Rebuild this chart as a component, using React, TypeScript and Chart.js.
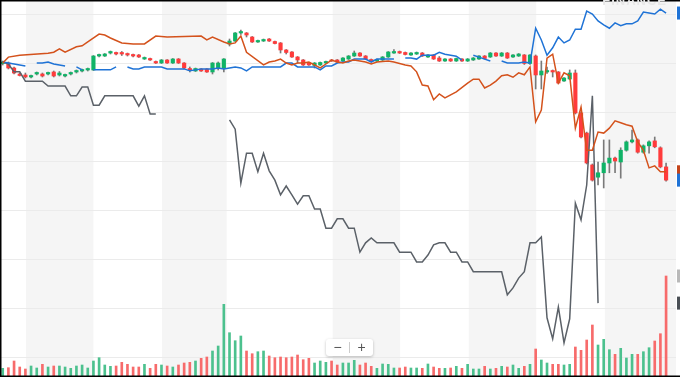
import React, { useEffect, useRef } from "react";
import { Chart, registerables } from "chart.js";

Chart.register(...registerables);

// ---- Data (percent change vs. first day; index = trading day) ----
const candleOpen = [0, 0.2, -0.82, -2.04, -2.24, -2.65, -2.04, -2.04, -2.04, -1.63, -2.24, -2.45, -2.04, -1.63, -1.43, -1.22, -1.22, 1.63, 1.63, 2.24, 2.35, 2.35, 2.14, 1.94, 1.84, 1.02, 1.12, 0.51, 0.2, 0.82, 0.2, 1.02, 0.2, -0.92, -1.43, -1.02, -1.02, -1.63, -0.82, -0.82, 4.08, 4.69, 6.33, 6.33, 5.51, 4.49, 4.69, 5.1, 4.59, 4.29, 2.86, 2.45, 1.43, 0.82, 0.2, -0.31, -0.2, 0.2, 0.82, 0.82, 0.61, 1.02, 1.63, 2.24, 1.63, 0.92, 0.61, 0.82, 1.43, 2.24, 2.55, 2.35, 1.84, 2.04, 2.24, 1.43, 1.84, 1.22, 0.61, 1.02, 0.61, 1.02, 0.61, 0.82, 1.02, 1.63, 1.43, 2.24, 1.63, 2.24, 1.43, 1.63, 1.84, 0, 1.63, -2.24, -1.63, -1.33, -1.63, -3.47, -3.06, -1.84, -10.0, -14.1, -20.6, -23.1, -22.2, -20.2, -19.2, -20.0, -17.6, -15.9, -15.5, -18.0, -16.7, -15.7, -17.1, -21.0];
const candleHigh = [0.61, 0.41, -0.61, -1.84, -1.84, -2.24, -1.63, -1.84, -1.63, -1.43, -1.53, -2.04, -1.63, -1.22, -1.02, -0.82, 1.73, 2.04, 2.14, 2.65, 2.45, 2.55, 2.24, 2.04, 1.94, 1.43, 1.22, 0.61, 0.92, 0.92, 1.12, 1.12, 0.31, -0.61, -0.82, -0.92, -0.92, 0.31, 0.41, 1.12, 5.1, 6.43, 6.94, 6.43, 5.61, 4.9, 5.1, 5.2, 4.69, 4.39, 2.96, 2.55, 1.53, 0.92, 0.31, 0.31, 0.41, 0.61, 0.92, 0.92, 1.33, 1.73, 2.65, 2.35, 1.73, 1.02, 1.02, 1.53, 2.55, 2.96, 2.65, 2.45, 2.35, 2.45, 2.35, 1.94, 1.94, 1.53, 1.12, 1.12, 1.22, 1.12, 1.12, 1.33, 1.73, 1.73, 2.35, 2.35, 2.35, 2.35, 1.94, 2.14, 1.94, 1.94, 1.84, 0.61, -0.61, -1.22, -1.53, -2.76, -1.22, -1.22, -9.8, -13.9, -20.4, -20.0, -15.5, -15.5, -19.0, -17.1, -15.7, -13.5, -15.3, -16.5, -15.7, -14.9, -16.9, -20.2];
const candleLow = [-0.2, -1.02, -2.04, -2.45, -2.86, -2.86, -2.24, -2.65, -2.24, -2.65, -2.45, -2.65, -2.24, -1.84, -1.63, -1.43, -1.33, 1.43, 1.53, 2.04, 1.84, 1.73, 1.63, 1.43, 1.33, 0.92, 0.71, 0.1, 0.1, 0.1, 0.1, 0.1, -1.02, -1.63, -1.53, -1.53, -1.73, -2.04, -1.22, -1.63, 3.67, 4.59, 6.02, 5.51, 4.39, 4.39, 4.59, 4.59, 4.08, 2.24, 2.04, 1.33, 0.2, -0.31, -0.31, -0.82, -0.31, 0.1, 0.51, 0.31, 0.51, 0.92, 1.53, 1.53, 0.92, 0.51, 0.51, 0.71, 1.33, 2.14, 2.14, 1.84, 1.73, 1.94, 1.53, 1.33, 0.92, 0.51, 0.51, 0.51, 0.51, 0.51, 0.51, 0.71, 0.92, 1.02, 1.33, 1.53, 1.53, 1.12, 1.33, 1.53, -0.1, -0.1, -5.1, -5.1, -1.94, -2.65, -3.98, -3.57, -3.16, -10.2, -15.1, -20.4, -23.9, -24.7, -25.3, -22.2, -22.2, -23.3, -17.8, -16.1, -18.2, -18.2, -18.2, -17.1, -21.2, -23.9];
const candleClose = [0.41, -0.82, -1.84, -2.35, -2.65, -2.35, -1.73, -2.45, -1.73, -2.45, -1.84, -2.14, -1.73, -1.33, -1.12, -0.92, 1.63, 1.94, 2.04, 2.55, 2.04, 2.04, 1.84, 1.63, 1.43, 1.33, 0.82, 0.2, 0.82, 0.2, 1.02, 0.2, -0.82, -1.33, -0.92, -1.43, -1.63, 0.2, 0.2, 1.02, 4.69, 6.33, 6.63, 5.92, 4.49, 4.8, 5.0, 4.69, 4.18, 2.86, 2.35, 1.43, 0.82, -0.2, -0.2, 0.2, 0.31, 0.51, 0.61, 0.41, 1.22, 1.63, 2.24, 1.63, 1.02, 0.61, 0.92, 1.43, 2.45, 2.55, 2.24, 1.94, 2.24, 2.35, 1.63, 1.84, 1.02, 0.61, 1.02, 0.61, 1.12, 0.61, 1.02, 1.22, 1.63, 1.12, 2.24, 1.63, 2.24, 1.22, 1.84, 2.04, 0, 1.84, -2.24, -1.43, -1.33, -1.63, -3.88, -2.86, -1.84, -10.0, -14.9, -20.2, -23.7, -22.2, -20.2, -19.2, -19.8, -17.6, -15.9, -15.5, -18.0, -16.7, -15.9, -16.9, -21.0, -23.7];
const volume = [0.87, 0.93, 1.6, 1.0, 0.8, 1.1, 0.9, 1.27, 1.0, 1.1, 1.1, 1.0, 0.87, 1.1, 1.2, 0.9, 1.6, 1.93, 1.2, 1.07, 1.1, 1.47, 1.27, 1.0, 1.0, 1.27, 0.87, 1.27, 1.2, 1.1, 1.0, 1.2, 1.4, 1.47, 1.6, 1.87, 2.0, 2.6, 3.1, 7.27, 4.43, 3.63, 4.1, 2.6, 2.33, 2.53, 2.6, 2.1, 1.93, 2.0, 1.93, 2.0, 2.2, 1.73, 1.87, 1.4, 1.6, 1.47, 1.6, 1.2, 1.4, 1.4, 1.67, 1.2, 1.4, 1.07, 0.87, 1.3, 1.27, 0.9, 0.9, 1.0, 0.9, 0.9, 0.87, 1.3, 1.0, 0.87, 0.87, 0.9, 1.07, 0.87, 1.27, 0.8, 0.8, 1.07, 0.8, 0.87, 1.07, 1.0, 1.2, 0.87, 1.07, 1.27, 2.8, 1.7, 1.4, 1.27, 1.27, 1.2, 1.27, 3.0, 2.67, 3.7, 5.2, 3.2, 3.77, 2.73, 2.27, 2.87, 1.9, 2.27, 2.27, 2.53, 2.93, 3.6, 4.33, 10.1];

// comparison series: [day index, % change]
const orangeLine: [number, number][] = [[0, 0.2], [1, 1.4], [3, 1.8], [8, 2.2], [9, 2.4], [10, 3.1], [11, 2.4], [13, 3.5], [14, 3.7], [15, 4.5], [17, 6.1], [18, 5.9], [19, 5.3], [21, 4.3], [23, 4.1], [25, 4.1], [27, 5.7], [29, 5.5], [35, 5.7], [36, 4.9], [37, 5.5], [39, 4.5], [40, 4.1], [41, 4.3], [42, 5.7], [43, 2.4], [46, -0.2], [47, 0.4], [48, 0.6], [49, 1.0], [50, 0.2], [51, -0.2], [52, 0.2], [53, 0.2], [54, 0.4], [56, -0.8], [57, 0], [58, 0.8], [59, 0.4], [60, 0.2], [61, 0.6], [62, 0.8], [63, 0.6], [64, 0.4], [65, 0], [66, 0.4], [68, 0.6], [69, 0.4], [71, -0.2], [72, -0.4], [73, -1.6], [74, -4.3], [75, -4.5], [76, -7.3], [77, -6.1], [78, -6.9], [80, -5.7], [82, -3.9], [83, -3.1], [84, -3.1], [85, -4.9], [86, -4.3], [87, -3.5], [88, -2.4], [89, -2.2], [90, -2.7], [91, -1.8], [92, -2.2], [93, -0.6], [94, -11.8], [95, -9.4], [96, 1.2], [97, 2.0], [98, -3.9], [99, -1.8], [100, -2.4], [101, -13.1], [102, -8.8], [103, -17.6], [104, -17.6], [105, -13.9], [106, -14.1], [107, -13.1], [108, -11.6], [109, -12.0], [110, -12.4], [111, -12.7], [112, -15.9], [113, -17.6], [114, -21.2], [115, -20.8], [116, -22.0], [117, -22.0]];
const blueLine: (number | null)[] = [0.4, 0.2, 0, -0.2, -0.4, null, 0.2, 0.2, 0.4, 0, -0.2, -0.4, null, -0.6, -1.2, null, -1.2, -1.2, -1.2, -1.2, -0.6, null, -0.6, -1.0, -1.0, -0.6, -0.6, -0.6, -0.6, -1.0, -1.0, -1.0, -1.0, -1.4, -1.2, -1.0, -1.0, -1.0, -0.8, -1.0, -0.8, -0.6, -0.8, -1.4, -0.6, -0.6, -0.6, -0.6, -0.6, -0.6, 0.2, 0.2, -0.6, -0.6, -0.6, -0.6, -1.2, -0.4, -0.4, 0.2, 0.4, 0.4, 1.0, 1.0, 1.0, 0.4, 1.0, 1.0, 1.0, 1.0, null, 1.2, 1.2, 1.0, 1.8, 1.8, 1.8, 2.4, 2.0, 1.8, 1.6, 0.8, null, 1.8, 1.4, 1.0, 0.6, null, 0.6, 0.2, 0.2, 0.2, 0.4, 0.2, 7.3, 4.9, 1.8, 3.3, 5.5, 4.3, 4.9, 7.1, 7.1, 10.8, 10.2, 8.8, 8.0, 7.3, 8.4, 7.8, 8.2, 8.2, 8.8, 10.6, 10.4, 10.2, 11.2, 10.4];
const grayLine: (number | null)[] = [0.4, 0, -1.6, -1.6, -3.5, -3.5, -3.5, -3.5, -4.5, -4.5, -4.5, -4.5, -6.5, -6.5, -4.7, -4.7, -8.4, -8.4, -6.5, -6.5, -6.5, -6.5, -6.5, -6.5, -8.6, -6.5, -10.2, -10.2, null, null, null, null, null, null, null, null, null, null, null, null, -11.4, -13.3, -24.3, -18.2, -18.2, -22.0, -18.2, -21.8, -23.7, -26.7, -24.9, -26.7, -28.6, -26.9, -26.9, -29.6, -29.6, -33.5, -33.5, -31.6, -31.6, -33.5, -33.5, -38.4, -36.5, -35.5, -36.5, -36.5, -36.5, -36.5, -38.4, -38.4, -38.4, -40.4, -40.4, -39.0, -36.9, -36.5, -36.5, -38.4, -38.4, -40.4, -40.4, -42.4, -42.4, -42.4, -42.4, -42.4, -42.4, -47.1, -45.7, -43.7, -42.4, -36.5, -36.5, -35.3, -51.8, -56.1, -49.6, -56.9, -52.0, -28.4, -31.8, -24.7, -6.5, -48.8];

// shaded periods [from day, to day]
const shadeBands: [number, number][] = [[4.1, 16.0], [28.1, 39.5], [58.2, 70.1], [82.2, 94.1], [106.2, 119]];

const UP = "#10b367";
const DOWN = "#ff3b3b";
const VOL_UP = "#4cc18e";
const VOL_DOWN = "#f76b6b";
const ORANGE = "#d4521c";
const BLUE = "#1f73d6";
const GRAY = "#5b6168";

const decorPlugin = {
  id: "decor",
  beforeDraw(chart: any) {
    const { ctx, chartArea, scales } = chart;
    ctx.save();
    ctx.fillStyle = "#f5f5f5";
    for (const [a, b] of shadeBands) {
      const x1 = Math.max(chartArea.left, scales.x.getPixelForValue(a));
      const x2 = Math.min(chartArea.right, scales.x.getPixelForValue(b));
      ctx.fillRect(x1, chartArea.top, x2 - x1, chartArea.bottom - chartArea.top);
    }
    ctx.restore();
  },
  afterDraw(chart: any) {
    const { ctx, chartArea, scales, width, height } = chart;
    ctx.save();
    const lastOf = (arr: (number | null)[]) => {
      for (let i = arr.length - 1; i >= 0; i--) if (arr[i] != null) return arr[i] as number;
      return 0;
    };
    const markers: [number, string][] = [
      [scales.yv.getPixelForValue(volume[volume.length - 1]), "#b9b9b9"],
      [scales.y.getPixelForValue(lastOf(grayLine)), "#4a4f55"],
      [scales.y.getPixelForValue(orangeLine[orangeLine.length - 1][1]), "#c4441a"],
      [scales.y.getPixelForValue(lastOf(blueLine)), BLUE],
      [scales.y.getPixelForValue(candleClose[candleClose.length - 1]), BLUE],
    ];
    const mx = chartArea.right + 1;
    for (const [py, col] of markers) {
      ctx.fillStyle = col;
      ctx.fillRect(mx, py - 6.5, width - mx, 13);
    }
    ctx.fillStyle = "#000";
    ctx.fillRect(0, 0, width, 1.5);
    ctx.fillRect(0, 0, 1.5, height);
    ctx.fillRect(0, height - 1.5, width, 1.5);
    ctx.restore();
  },
};

export default function App() {
  const ref = useRef<HTMLCanvasElement>(null);
  useEffect(() => {
    const idx = candleOpen.map((_, i) => i);
    const up = idx.map((i) => candleClose[i] >= candleOpen[i]);
    const chart = new Chart(ref.current as HTMLCanvasElement, {
      type: "bar",
      data: {
        datasets: [
          {
            type: "line",
            label: "Orange",
            data: orangeLine.map(([x, y]) => ({ x, y })),
            borderColor: ORANGE,
            borderWidth: 1.5,
            pointRadius: 0,
            tension: 0,
            order: 0,
            yAxisID: "y",
          },
          {
            type: "line",
            label: "Blue",
            data: blueLine.map((y, x) => ({ x, y })),
            borderColor: BLUE,
            borderWidth: 1.5,
            pointRadius: 0,
            tension: 0,
            spanGaps: false,
            order: 1,
            yAxisID: "y",
          },
          {
            type: "line",
            label: "Gray",
            data: grayLine.map((y, x) => ({ x, y })),
            borderColor: GRAY,
            borderWidth: 1.5,
            pointRadius: 0,
            tension: 0,
            spanGaps: false,
            order: 2,
            yAxisID: "y",
          },
          {
            type: "bar",
            label: "Body",
            data: idx.map((i) => ({ x: i, y: [candleOpen[i], candleClose[i]] })),
            backgroundColor: up.map((u) => (u ? UP : DOWN)),
            barThickness: 3.5,
            grouped: false,
            order: 3,
            yAxisID: "y",
          },
          {
            type: "bar",
            label: "Wick",
            data: idx.map((i) => ({ x: i, y: [candleLow[i], candleHigh[i]] })),
            backgroundColor: "#7a7a7a",
            barThickness: 1,
            grouped: false,
            order: 4,
            yAxisID: "y",
          },
          {
            type: "bar",
            label: "Volume",
            data: idx.map((i) => ({ x: i, y: volume[i] })),
            backgroundColor: up.map((u) => (u ? VOL_UP : VOL_DOWN)),
            barThickness: 2,
            grouped: false,
            order: 5,
            yAxisID: "yv",
          },
        ] as any,
      },
      options: {
        responsive: false,
        animation: false,
        events: [],
        layout: { padding: { left: 0, right: 4, top: 0, bottom: 0 } },
        plugins: { legend: { display: false }, tooltip: { enabled: false } },
        scales: {
          x: { type: "linear", min: -0.48, max: 118.75, display: false, offset: false },
          y: {
            type: "linear",
            min: -63.88,
            max: 13.06,
            position: "left",
            ticks: { display: false, stepSize: 10, includeBounds: false },
            grid: { color: "#ebebeb", drawTicks: false, lineWidth: 1 },
            border: { display: false },
          },
          yv: { type: "linear", min: 0, max: 37.7, display: false },
        },
      } as any,
      plugins: [decorPlugin],
    });
    return () => chart.destroy();
  }, []);

  return (
    <div style={{ position: "fixed", left: 0, top: 0, width: 680, height: 377, background: "#fff", overflow: "hidden" }}>
      <canvas ref={ref} width={680} height={377} style={{ position: "absolute", left: 0, top: 0, width: 680, height: 377 }} />
      <div
        style={{
          position: "absolute",
          right: 13,
          top: -7,
          fontFamily: "'Liberation Sans', Arial, sans-serif",
          fontWeight: 700,
          fontSize: 13,
          letterSpacing: 1,
          color: "#e8e8e8",
        }}
      >
        FINANCE
      </div>
      <div
        style={{
          position: "absolute",
          left: 326,
          top: 339,
          width: 47,
          height: 17,
          background: "#fff",
          borderRadius: 3,
          boxShadow: "0 1px 3px rgba(0,0,0,0.25)",
          display: "flex",
          alignItems: "center",
          fontFamily: "'Liberation Sans', Arial, sans-serif",
          fontSize: 14,
          color: "#555",
        }}
      >
        <span style={{ flex: 1, textAlign: "center", lineHeight: "17px" }}>−</span>
        <span style={{ width: 1, height: 11, background: "#ccc" }} />
        <span style={{ flex: 1, textAlign: "center", lineHeight: "17px" }}>+</span>
      </div>
    </div>
  );
}
